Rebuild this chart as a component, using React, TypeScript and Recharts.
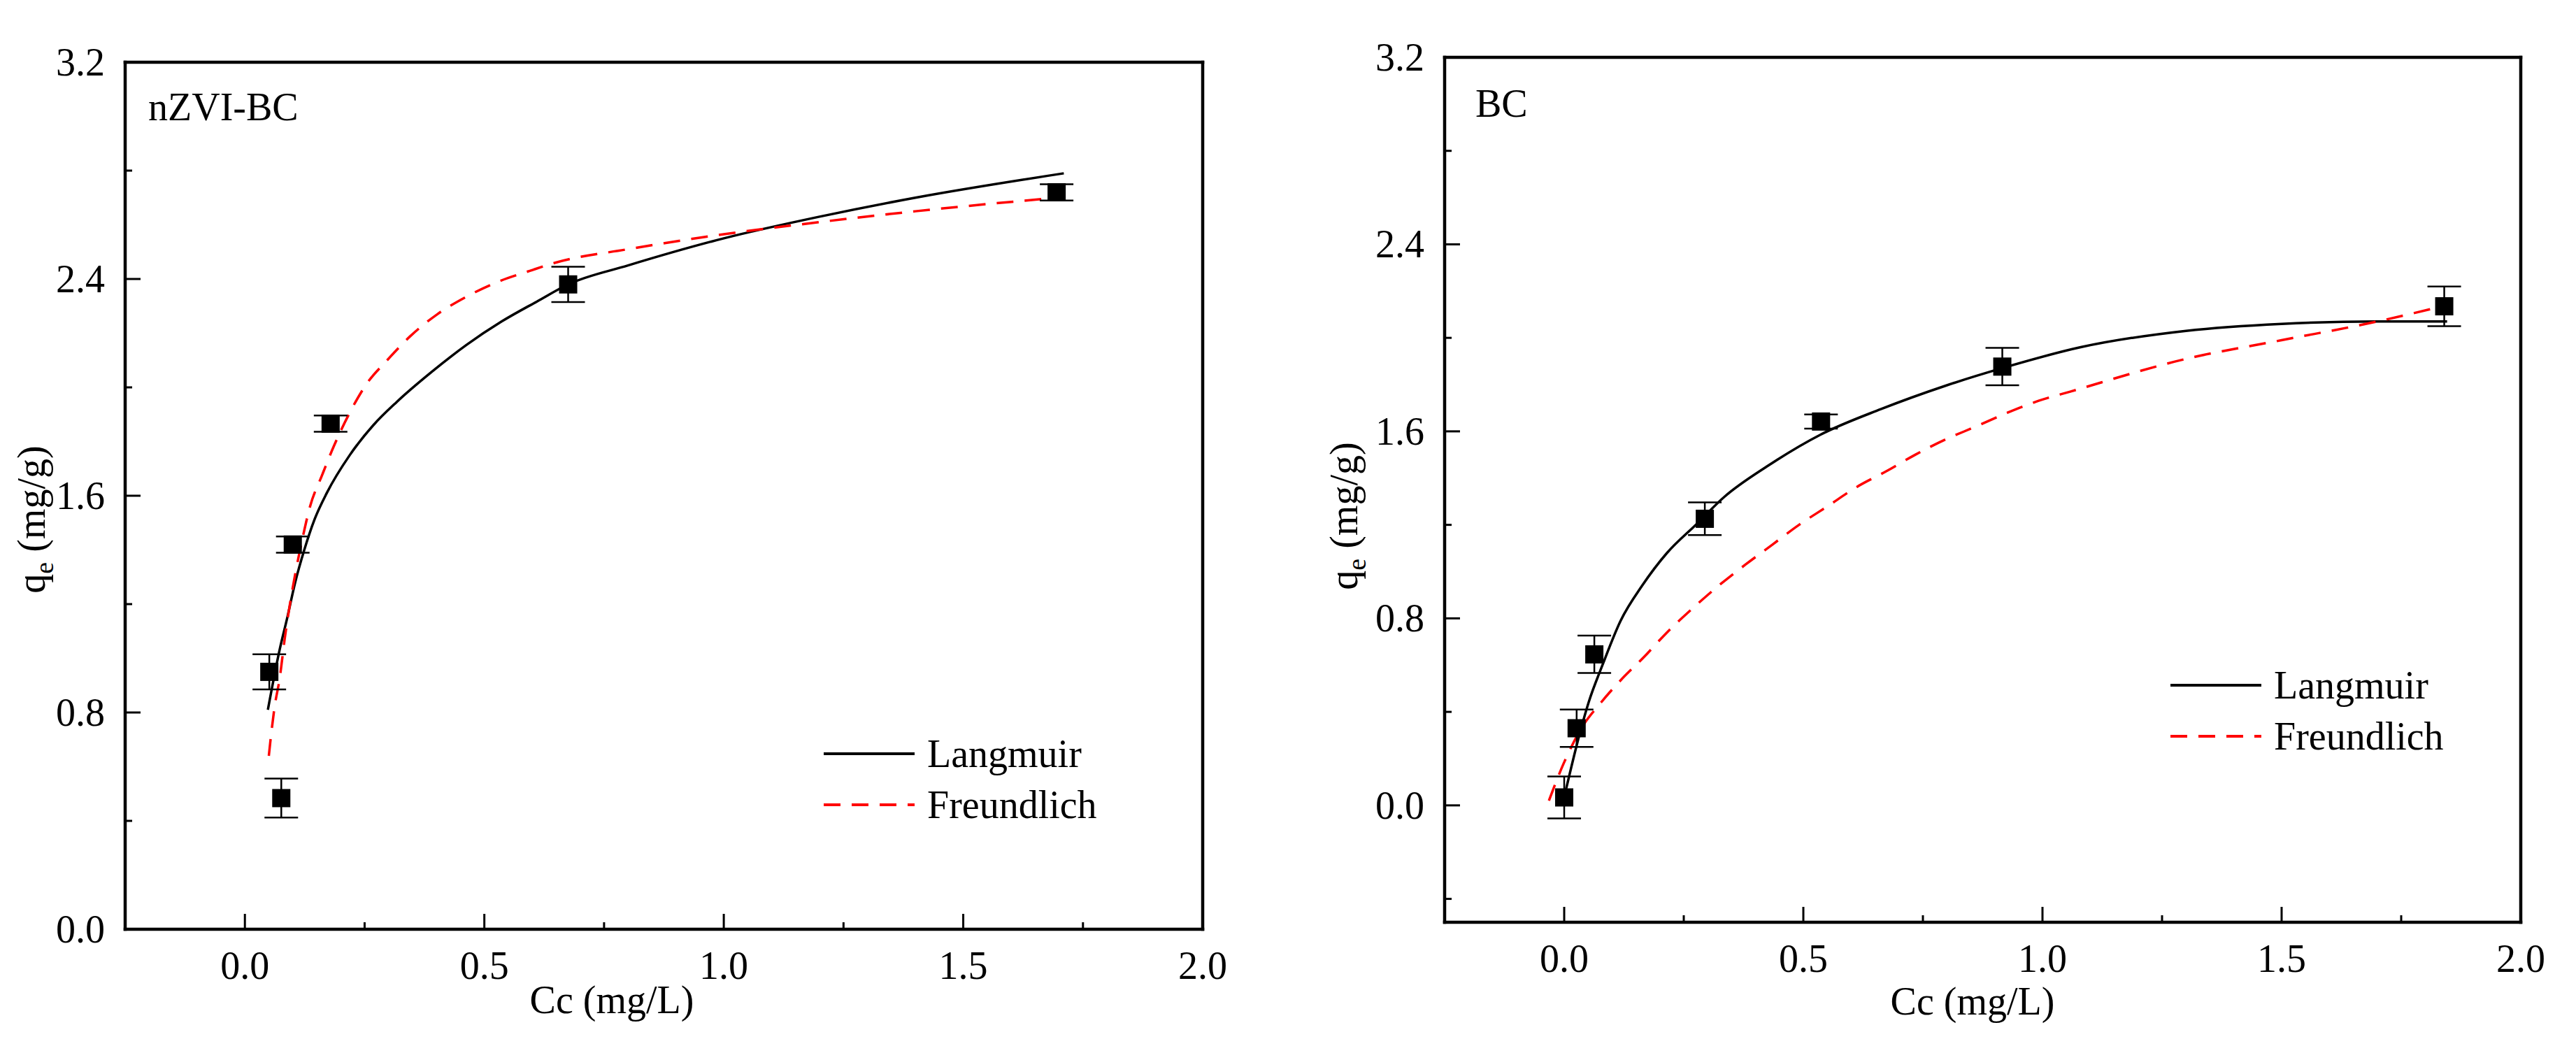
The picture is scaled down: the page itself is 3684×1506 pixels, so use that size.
import React from "react";
import { ComposedChart, Line, Scatter, ErrorBar, XAxis, YAxis, Legend } from "recharts";

const FONT = "'Liberation Serif', 'Times New Roman', serif";

// nZVI-BC
const nzviX = [0.051, 0.076, 0.1, 0.179, 0.675, 1.695];
const nzviQ = [0.95, 0.484, 1.42, 1.866, 2.38, 2.72];
const nzviErr = [0.065, 0.072, 0.03, 0.03, 0.065, 0.03];
const nzviLangX = [0.048, 0.073, 0.088, 0.105, 0.124, 0.146, 0.171, 0.219, 0.268, 0.317, 0.39, 0.463, 0.536, 0.61, 0.675, 0.8, 1.0, 1.2, 1.4, 1.71];
const nzviLangQ = [0.81, 1.035, 1.146, 1.28, 1.4, 1.515, 1.61, 1.75, 1.86, 1.946, 2.057, 2.157, 2.243, 2.317, 2.38, 2.45, 2.55, 2.63, 2.7, 2.79];
const nzviFreuX = [0.05, 0.053, 0.062, 0.073, 0.083, 0.095, 0.105, 0.12, 0.136, 0.161, 0.185, 0.217, 0.253, 0.297, 0.346, 0.402, 0.463, 0.529, 0.595, 0.648, 0.8, 1.0, 1.2, 1.4, 1.695];
const nzviFreuQ = [0.64, 0.69, 0.82, 0.93, 1.07, 1.21, 1.31, 1.44, 1.56, 1.675, 1.78, 1.9, 2.01, 2.1, 2.19, 2.27, 2.335, 2.39, 2.43, 2.46, 2.51, 2.565, 2.61, 2.65, 2.7];

// BC
const bcX = [0.0, 0.026, 0.063, 0.294, 0.537, 0.916, 1.84];
const bcQ = [0.034, 0.33, 0.646, 1.226, 1.642, 1.877, 2.135];
const bcErr = [0.09, 0.08, 0.08, 0.07, 0.03, 0.08, 0.085];
const bcLangX = [0.004, 0.029, 0.051, 0.08, 0.118, 0.163, 0.215, 0.275, 0.335, 0.424, 0.535, 0.662, 0.797, 0.915, 1.08, 1.3, 1.5, 1.7, 1.846];
const bcLangQ = [0.07, 0.28, 0.44, 0.6, 0.79, 0.94, 1.08, 1.2, 1.32, 1.45, 1.585, 1.695, 1.795, 1.87, 1.96, 2.03, 2.06, 2.07, 2.07];
const bcFreuX = [-0.032, -0.001, 0.036, 0.077, 0.118, 0.167, 0.215, 0.267, 0.323, 0.379, 0.435, 0.491, 0.551, 0.61, 0.674, 0.734, 0.797, 0.86, 0.927, 0.991, 1.058, 1.3, 1.5, 1.7, 1.846];
const bcFreuQ = [0.02, 0.18, 0.33, 0.44, 0.535, 0.635, 0.74, 0.84, 0.94, 1.03, 1.115, 1.2, 1.28, 1.36, 1.43, 1.5, 1.565, 1.62, 1.68, 1.73, 1.77, 1.91, 1.99, 2.07, 2.14];

const xTicks = [-0.25, 0, 0.25, 0.5, 0.75, 1.0, 1.25, 1.5, 1.75, 2.0];
const yTicksA = [0, 0.4, 0.8, 1.2, 1.6, 2.0, 2.4, 2.8, 3.2];
const yTicksB = [-0.4, 0, 0.4, 0.8, 1.2, 1.6, 2.0, 2.4, 2.8, 3.2];
const legendOrder = ["Langmuir", "Freundlich"];

const zip = (xs: number[], ys: number[], err?: number[]) =>
  xs.map((x, i) => (err ? { x, q: ys[i], err: err[i] } : { x, q: ys[i] }));

const isStep = (v: number, step: number) => Math.abs(v / step - Math.round(v / step)) < 1e-6;

const XTick = (p: any) => {
  const v = p.payload.value;
  const major = isStep(v, 0.5);
  const edge = v <= -0.25 + 1e-9 || v >= 2 - 1e-9;
  return (
    <g>
      {!edge && <line x1={p.x} x2={p.x} y1={p.y} y2={p.y - (major ? 22 : 10)} stroke="#000" strokeWidth={3} />}
      {major && (
        <text x={p.x} y={p.y + 71} textAnchor="middle" fontSize={56} fontFamily={FONT} fill="#000">{v.toFixed(1)}</text>
      )}
    </g>
  );
};

const YTick = (p: any) => {
  const v = p.payload.value;
  const major = isStep(v, 0.8);
  return (
    <g>
      <line x1={p.x} x2={p.x + (major ? 22 : 10)} y1={p.y} y2={p.y} stroke="#000" strokeWidth={3} />
      {major && (
        <text x={p.x - 29} y={p.y + 19} textAnchor="end" fontSize={56} fontFamily={FONT} fill="#000">{v.toFixed(1)}</text>
      )}
    </g>
  );
};

const LegendBox = (props: any) => {
  const items = (props.payload || [])
    .filter((e: any) => e.type === "line")
    .sort((a: any, b: any) => legendOrder.indexOf(a.value) - legendOrder.indexOf(b.value));
  return (
    <svg width={600} height={150}>
      {items.map((e: any, i: number) => (
        <g key={i}>
          <line x1={0} x2={130} y1={30 + i * 73} y2={30 + i * 73} stroke={e.color} strokeWidth={4}
            strokeDasharray={e.payload?.strokeDasharray} />
          <text x={148} y={49 + i * 73} fontSize={56} fontFamily={FONT} fill="#000">{e.value}</text>
        </g>
      ))}
    </svg>
  );
};

const square = (p: any) => <rect x={p.cx - 13} y={p.cy - 13} width={26} height={26} fill="#000" />;

type PanelProps = {
  left: number; width: number; margin: { top: number; right: number; bottom: number; left: number };
  yDomain: [number, number]; yTicks: number[]; points: any[]; lang: any[]; freu: any[];
  tag: string; tagPos: [number, number]; legendPos: [number, number];
  xTitle: [number, number]; yTitle: [number, number];
};

function Panel(pp: PanelProps) {
  const frame = { stroke: "#000", strokeWidth: 4.5, strokeLinecap: "square" as const };
  const textStyle: React.CSSProperties = { position: "absolute", fontFamily: FONT, fontSize: 56, lineHeight: "56px", color: "#000", whiteSpace: "nowrap" };
  return (
    <div style={{ position: "absolute", left: pp.left, top: 0, width: pp.width, height: 1506 }}>
      <ComposedChart width={pp.width} height={1506} margin={pp.margin}>
        <XAxis dataKey="x" type="number" domain={[-0.25, 2]} ticks={xTicks} allowDataOverflow interval={0}
          height={1} tickLine={false} tickSize={0} tickMargin={0} axisLine={frame} tick={XTick} />
        <XAxis xAxisId="top" orientation="top" dataKey="x" type="number" domain={[-0.25, 2]} height={1}
          tick={false} tickLine={false} axisLine={frame} />
        <YAxis type="number" domain={pp.yDomain} ticks={pp.yTicks} allowDataOverflow interval={0}
          width={1} tickLine={false} tickSize={0} tickMargin={0} axisLine={frame} tick={YTick} />
        <YAxis yAxisId="right" orientation="right" type="number" domain={pp.yDomain} width={1}
          tick={false} tickLine={false} axisLine={frame} />
        <Line data={pp.lang} dataKey="q" name="Langmuir" type="monotone" stroke="#000" strokeWidth={3.5}
          dot={false} activeDot={false} isAnimationActive={false} />
        <Line data={pp.freu} dataKey="q" name="Freundlich" type="monotone" stroke="#ff0000" strokeWidth={3.5}
          strokeDasharray="24 16" dot={false} activeDot={false} isAnimationActive={false} />
        <Scatter data={pp.points} dataKey="q" shape={square} legendType="none" isAnimationActive={false}>
          <ErrorBar dataKey="err" direction="y" width={24} strokeWidth={2.5} stroke="#000" isAnimationActive={false} />
        </Scatter>
        <Legend layout="vertical" align="center" verticalAlign="middle" content={LegendBox}
          wrapperStyle={{ left: pp.legendPos[0], top: pp.legendPos[1], width: 600, height: 150 }} />
      </ComposedChart>
      <div style={{ ...textStyle, left: pp.tagPos[0], top: pp.tagPos[1] }}>{pp.tag}</div>
      <div style={{ ...textStyle, left: pp.xTitle[0], top: pp.xTitle[1], transform: "translate(-50%, -50%)" }}>Cc (mg/L)</div>
      <div style={{ ...textStyle, left: pp.yTitle[0], top: pp.yTitle[1], transform: "translate(-50%, -50%) rotate(-90deg)" }}>
        q<sub style={{ fontSize: 38, verticalAlign: "-12px", lineHeight: 0 }}>e</sub> (mg/g)
      </div>
    </div>
  );
}

export default function App() {
  return (
    <div style={{ position: "absolute", left: 0, top: 0, width: 3684, height: 1506, background: "#fff" }}>
      <Panel left={0} width={1800} margin={{ top: 88, right: 79, bottom: 176, left: 178 }}
        yDomain={[0, 3.2]} yTicks={yTicksA}
        points={zip(nzviX, nzviQ, nzviErr)} lang={zip(nzviLangX, nzviLangQ)} freu={zip(nzviFreuX, nzviFreuQ)}
        tag="nZVI-BC" tagPos={[212, 125]} legendPos={[1178, 1048]} xTitle={[875, 1430]} yTitle={[45, 743]} />
      <Panel left={1850} width={1834} margin={{ top: 81, right: 78, bottom: 186, left: 215 }}
        yDomain={[-0.5, 3.2]} yTicks={yTicksB}
        points={zip(bcX, bcQ, bcErr)} lang={zip(bcLangX, bcLangQ)} freu={zip(bcFreuX, bcFreuQ)}
        tag="BC" tagPos={[260, 120]} legendPos={[1254, 950]} xTitle={[971, 1432]} yTitle={[72, 738]} />
    </div>
  );
}
